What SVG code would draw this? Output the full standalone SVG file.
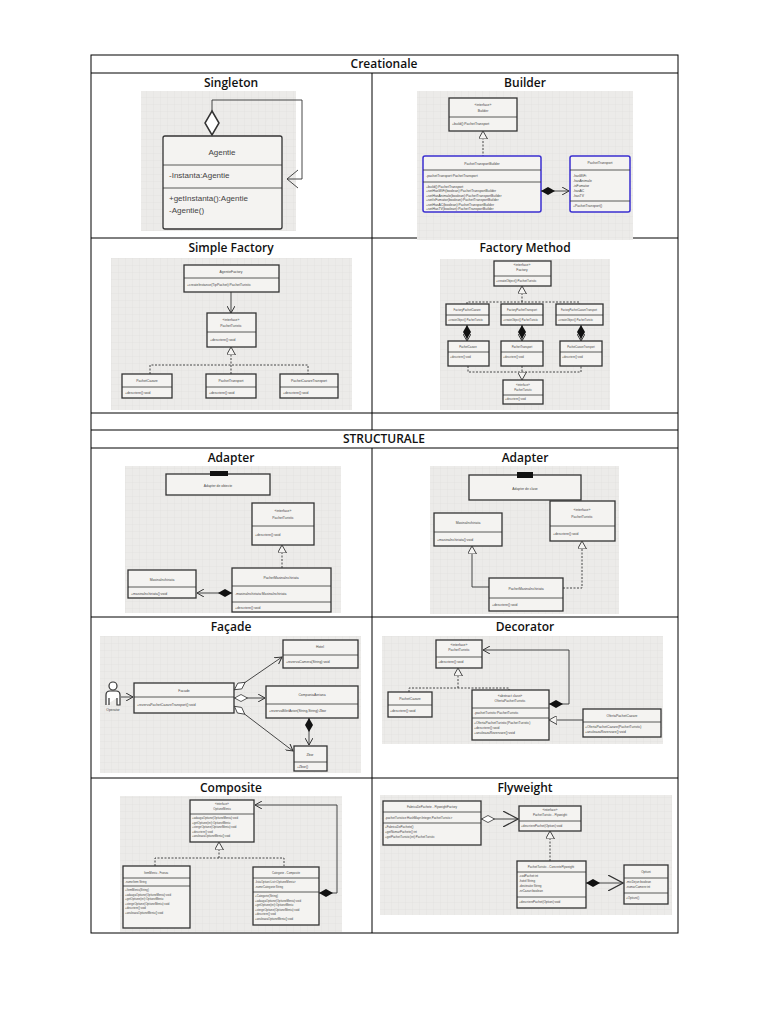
<svg xmlns="http://www.w3.org/2000/svg" width="768" height="1024" viewBox="0 0 768 1024">
<defs>
<pattern id="grid" width="7" height="7" patternUnits="userSpaceOnUse"><rect width="7" height="7" fill="#ecebe9"/><path d="M7 0V7H0" fill="none" stroke="#dcdad7" stroke-width="0.5"/></pattern>
<marker id="open" markerWidth="8" markerHeight="8" refX="7" refY="4" orient="auto" markerUnits="userSpaceOnUse"><path d="M0 0L7 4L0 8" fill="none" stroke="#333" stroke-width="1"/></marker>
<marker id="openL" markerWidth="16" markerHeight="16" refX="15" refY="8" orient="auto" markerUnits="userSpaceOnUse"><path d="M0 0L15 8L0 16" fill="none" stroke="#333" stroke-width="1.2"/></marker>
<marker id="tri" markerWidth="9" markerHeight="9" refX="8" refY="4.5" orient="auto" markerUnits="userSpaceOnUse"><path d="M0 0L8 4.5L0 9Z" fill="#f4f3f1" stroke="#333" stroke-width="0.9"/></marker>
<marker id="fd" markerWidth="16" markerHeight="8" refX="0" refY="4" orient="auto" markerUnits="userSpaceOnUse"><path d="M0 4L7 0L14 4L7 8Z" fill="#111"/></marker>
<marker id="hd" markerWidth="16" markerHeight="8" refX="0" refY="4" orient="auto" markerUnits="userSpaceOnUse"><path d="M0.5 4L7 0.5L13.5 4L7 7.5Z" fill="#fff" stroke="#333" stroke-width="0.8"/></marker>
</defs>
<style>
.cell{fill:none;stroke:#000;stroke-width:1}
.h{font-family:"Open Sans","Liberation Sans",sans-serif;font-size:12px;font-weight:600;text-anchor:middle;fill:#111}
.bg{fill:url(#grid)}
.b{fill:#f4f3f1;stroke:#333;stroke-width:1.3}
.bb{fill:#f4f3f1;stroke:#3a2fd0;stroke-width:1.5}
.d{stroke:#333;stroke-width:0.8}
.t{font-family:"Liberation Sans",sans-serif;font-size:3.4px;fill:#444}
.c{text-anchor:middle}
.big{font-size:8px;fill:#444}
.l{fill:none;stroke:#333;stroke-width:0.9}
.ds{stroke-dasharray:2 1.5}
</style>
<rect width="768" height="1024" fill="#fff"/>
<g id="table">
<rect class="cell" x="91" y="55" width="587" height="878"/>
<path class="cell" d="M91 73H678M91 238H678M91 413H678M91 430H678M91 448H678M91 617H678M91 778H678M372 73V430M372 448V933"/>
<text class="h" x="384" y="68">Creationale</text>
<text class="h" x="384" y="443">STRUCTURALE</text>
<text class="h" x="231" y="87">Singleton</text>
<text class="h" x="525" y="87">Builder</text>
<text class="h" x="231" y="252">Simple Factory</text>
<text class="h" x="525" y="252">Factory Method</text>
<text class="h" x="231" y="462">Adapter</text>
<text class="h" x="525" y="462">Adapter</text>
<text class="h" x="231" y="631">Façade</text>
<text class="h" x="525" y="631">Decorator</text>
<text class="h" x="231" y="792">Composite</text>
<text class="h" x="525" y="792">Flyweight</text>
</g>

<g id="singleton">
<rect class="bg" x="141" y="91" width="155" height="140"/>
<rect class="b" x="163" y="136" width="119" height="93" rx="2" stroke-width="2"/>
<path class="d" d="M163 165H282M163 188H282" stroke-width="1.5"/>
<text class="t big c" x="222" y="155">Agentie</text>
<text class="t big" x="169" y="178">-Instanta:Agentie</text>
<text class="t big" x="169" y="201">+getInstanta():Agentie</text>
<text class="t big" x="169" y="213">-Agentie()</text>
<path d="M212 111L219 123L212 135L205 123Z" fill="#fff" stroke="#333" stroke-width="1.5"/>
<path class="l" stroke-width="1.5" d="M212 111V100H302V179H287M298 170L287 179L298 188"/>
</g>

<g id="builder">
<rect class="bg" x="417" y="91" width="216" height="149"/>
<rect class="b" x="449" y="98" width="68" height="33"/>
<path class="d" d="M449 117H517"/>
<text class="t c" x="483" y="106">«interface»</text><text class="t c" x="483" y="112">Builder</text>
<text class="t" x="452" y="125">+build():PachetTransport</text>
<path class="l ds" d="M483 157V131" marker-end="url(#tri)"/>
<rect class="bb" x="423" y="156" width="118" height="56" rx="2"/>
<path class="d" d="M423 170H541M423 182H541"/>
<text class="t c" x="482" y="165">PachetTransportBuilder</text>
<text class="t" x="426" y="177">-pachetTransport:PachetTransport</text>
<text class="t" x="426" y="187.5">+build():PachetTransport</text>
<text class="t" x="426" y="192">+setHasWiFi(boolean):PachetTransportBuilder</text>
<text class="t" x="426" y="196.5">+setHasAnimale(boolean):PachetTransportBuilder</text>
<text class="t" x="426" y="201">+setIsFumator(boolean):PachetTransportBuilder</text>
<text class="t" x="426" y="205.5">+setHasAC(boolean):PachetTransportBuilder</text>
<text class="t" x="426" y="210">+setHasTV(boolean):PachetTransportBuilder</text>
<path class="l" d="M541 191H569" marker-start="url(#fd)" marker-end="url(#open)"/>
<rect class="bb" x="570" y="156" width="60" height="56" rx="2"/>
<path class="d" d="M570 170H630M570 201H630"/>
<text class="t c" x="600" y="164">PachetTransport</text>
<text class="t" x="573" y="177">-hasWiFi</text><text class="t" x="573" y="182">-hasAnimale</text><text class="t" x="573" y="187">-isFumator</text><text class="t" x="573" y="192">-hasAC</text><text class="t" x="573" y="197">-hasTV</text>
<text class="t" x="573" y="207">+PachetTransport()</text>
</g>

<g id="simplefactory">
<rect class="bg" x="111" y="258" width="241" height="152"/>
<rect class="b" x="184" y="265" width="95" height="27"/>
<path class="d" d="M184 278H279"/>
<text class="t c" x="231" y="273">AgentieFactory</text>
<text class="t" x="187" y="286">+createInstance(TipPachet):PachetTuristic</text>
<path class="l" d="M231 292V313" marker-end="url(#open)"/>
<rect class="b" x="207" y="313" width="49" height="34"/>
<path class="d" d="M207 332H256"/>
<text class="t c" x="231" y="321">«interface»</text><text class="t c" x="231" y="327">PachetTuristic</text>
<text class="t" x="210" y="341">+descriere():void</text>
<path class="l ds" d="M150 374V365H308V374M231 374V347" marker-end="url(#tri)"/>
<rect class="b" x="122" y="374" width="50" height="24"/><path class="d" d="M122 387H172"/>
<text class="t c" x="147" y="382">PachetCazare</text><text class="t" x="125" y="394">+descriere():void</text>
<rect class="b" x="206" y="374" width="50" height="24"/><path class="d" d="M206 387H256"/>
<text class="t c" x="231" y="382">PachetTransport</text><text class="t" x="209" y="394">+descriere():void</text>
<rect class="b" x="280" y="374" width="58" height="24"/><path class="d" d="M280 387H338"/>
<text class="t c" x="309" y="382">PachetCazareTransport</text><text class="t" x="283" y="394">+descriere():void</text>
</g>

<g id="factorymethod">
<rect class="bg" x="440" y="259" width="170" height="151"/>
<rect class="b" x="494" y="261" width="57" height="25"/><path class="d" d="M494 276H551"/>
<text class="t c" x="522" y="266">«interface»</text><text class="t c" x="522" y="271">Factory</text>
<text class="t" x="496" y="282" style="font-size:3px">+createObject():PachetTuristic</text>
<path class="l ds" d="M467 304V302H579V304M522 302V286" marker-end="url(#tri)"/>
<rect class="b" x="446" y="304" width="43" height="21"/><path class="d" d="M446 315H489"/>
<text class="t c" x="467" y="311" style="font-size:2.8px">FactoryPachetCazare</text><text class="t" x="448" y="321" style="font-size:2.6px">+createObject():PachetTuristic</text>
<rect class="b" x="501" y="304" width="42" height="21"/><path class="d" d="M501 315H543"/>
<text class="t c" x="522" y="311" style="font-size:2.8px">FactoryPachetTransport</text><text class="t" x="503" y="321" style="font-size:2.6px">+createObject():PachetTuristic</text>
<rect class="b" x="556" y="304" width="47" height="21"/><path class="d" d="M556 315H603"/>
<text class="t c" x="579" y="311" style="font-size:2.6px">FactoryPachetCazareTransport</text><text class="t" x="558" y="321" style="font-size:2.6px">+createObject():PachetTuristic</text>
<path class="l" d="M467 325V341" marker-start="url(#fd)" marker-end="url(#open)"/>
<path class="l" d="M522 325V341" marker-start="url(#fd)" marker-end="url(#open)"/>
<path class="l" d="M581 325V341" marker-start="url(#fd)" marker-end="url(#open)"/>
<rect class="b" x="448" y="341" width="41" height="25"/><path class="d" d="M448 352H489"/>
<text class="t c" x="468" y="348" style="font-size:2.8px">PachetCazare</text><text class="t" x="450" y="358" style="font-size:2.8px">+descriere():void</text>
<rect class="b" x="501" y="341" width="42" height="25"/><path class="d" d="M501 352H543"/>
<text class="t c" x="522" y="348" style="font-size:2.8px">PachetTransport</text><text class="t" x="503" y="358" style="font-size:2.8px">+descriere():void</text>
<rect class="b" x="560" y="341" width="42" height="25"/><path class="d" d="M560 352H602"/>
<text class="t c" x="581" y="348" style="font-size:2.6px">PachetCazareTransport</text><text class="t" x="562" y="358" style="font-size:2.8px">+descriere():void</text>
<path class="l ds" d="M468 366V372H581V366M522 366V380" marker-end="url(#tri)"/>
<rect class="b" x="503" y="380" width="40" height="24"/><path class="d" d="M503 395H543"/>
<text class="t c" x="523" y="386" style="font-size:2.8px">«interface»</text><text class="t c" x="523" y="391" style="font-size:2.8px">PachetTuristic</text>
<text class="t" x="505" y="400" style="font-size:2.8px">+descriere():void</text>
</g>

<g id="adapter1">
<rect class="bg" x="125" y="466" width="216" height="147"/>
<rect class="b" x="166" y="474" width="104" height="21"/>
<rect x="210" y="471" width="18" height="5" fill="#111"/>
<text class="t c" x="218" y="487">Adapter de obiecte</text>
<rect class="b" x="252" y="503" width="62" height="42"/><path class="d" d="M252 526H314"/>
<text class="t c" x="283" y="512">«interface»</text><text class="t c" x="283" y="519">PachetTuristic</text>
<text class="t" x="255" y="536">+descriere():void</text>
<path class="l ds" d="M282 568V545" marker-end="url(#tri)"/>
<rect class="b" x="232" y="568" width="99" height="44"/><path class="d" d="M232 586H331M232 602H331"/>
<text class="t c" x="281" y="579">PachetMasinaInchiriata</text>
<text class="t" x="235" y="595">-masinaInchiriata:MasinaInchiriata</text>
<text class="t" x="235" y="609">+descriere():void</text>
<rect class="b" x="128" y="570" width="68" height="28"/><path class="d" d="M128 587H196"/>
<text class="t c" x="162" y="581">MasinaInchiriata</text>
<text class="t" x="131" y="595">+masinaInchiriata():void</text>
<path class="l" d="M232 593H197" marker-start="url(#fd)" marker-end="url(#open)"/>
</g>

<g id="adapter2">
<rect class="bg" x="430" y="466" width="189" height="148"/>
<rect class="b" x="469" y="475" width="112" height="25"/>
<rect x="517" y="472" width="16" height="6" fill="#111"/>
<text class="t c" x="525" y="490">Adapter de clase</text>
<rect class="b" x="434" y="513" width="68" height="33"/><path class="d" d="M434 532H502"/>
<text class="t c" x="468" y="524">MasinaInchiriata</text>
<text class="t" x="437" y="541">+masinaInchiriata():void</text>
<rect class="b" x="550" y="501" width="65" height="40"/><path class="d" d="M550 526H615"/>
<text class="t c" x="582" y="511">«interface»</text><text class="t c" x="582" y="518">PachetTuristic</text>
<text class="t" x="553" y="535">+descriere():void</text>
<path class="l" d="M489 587H472V546" marker-end="url(#tri)"/>
<path class="l ds" d="M563 588H582V541" marker-end="url(#tri)"/>
<rect class="b" x="489" y="578" width="74" height="33"/><path class="d" d="M489 598H563"/>
<text class="t c" x="526" y="590">PachetMasinaInchiriata</text>
<text class="t" x="492" y="606">+descriere():void</text>
</g>

<g id="facade">
<rect class="bg" x="100" y="636" width="261" height="137"/>
<circle cx="113" cy="686" r="4" fill="#fff" stroke="#333" stroke-width="1.2"/>
<path d="M106 705V695Q106 691 110 691H116Q120 691 120 695V705H117V698M109 698V705" fill="#fff" stroke="#333" stroke-width="1.2"/>
<text class="t c" x="113" y="711">Operator</text>
<path class="l" d="M121 697H133" marker-end="url(#open)"/>
<rect class="b" x="134" y="683" width="100" height="30"/><path class="d" d="M134 697H234"/>
<text class="t c" x="184" y="692">Facade</text>
<text class="t" x="137" y="706">+rezervaPachetCazareTransport():void</text>
<rect class="b" x="283" y="640" width="75" height="28"/><path class="d" d="M283 655H358"/>
<text class="t c" x="320" y="648">Hotel</text>
<text class="t" x="286" y="663">+rezervaCamera(String):void</text>
<rect class="b" x="266" y="686" width="92" height="32"/><path class="d" d="M266 704H358"/>
<text class="t c" x="312" y="696">CompaniaAeriana</text>
<text class="t" x="269" y="712">+rezervaBiletAvion(String,String):Zbor</text>
<rect class="b" x="294" y="746" width="33" height="25"/><path class="d" d="M294 762H327"/>
<text class="t c" x="310" y="756">Zbor</text>
<text class="t" x="297" y="768">+Zbor()</text>
<path class="l" d="M234 690L282 657" marker-start="url(#hd)" marker-end="url(#open)"/>
<path class="l" d="M234 698H265" marker-start="url(#hd)" marker-end="url(#open)"/>
<path class="l" d="M234 706L293 751" marker-start="url(#hd)" marker-end="url(#open)"/>
<path class="l" d="M309 718V745" marker-start="url(#fd)" marker-end="url(#open)"/>
</g>

<g id="decorator">
<rect class="bg" x="382" y="636" width="281" height="108"/>
<rect class="b" x="436" y="640" width="46" height="28"/><path class="d" d="M436 657H482"/>
<text class="t c" x="459" y="646">«interface»</text><text class="t c" x="459" y="651">PachetTuristic</text>
<text class="t" x="438" y="663">+descriere():void</text>
<path class="l ds" d="M409 692V688H509V690M458 688V668" marker-end="url(#tri)"/>
<rect class="b" x="388" y="692" width="44" height="25"/><path class="d" d="M388 705H432"/>
<text class="t c" x="410" y="700">PachetCazare</text>
<text class="t" x="390" y="712">+descriere():void</text>
<rect class="b" x="472" y="690" width="77" height="50"/><path class="d" d="M472 708H549M472 718H549"/>
<text class="t c" x="510" y="697">«abstract class»</text><text class="t c" x="510" y="702">OfertaPachetTuristic</text>
<text class="t" x="474" y="714">-pachetTuristic:PachetTuristic</text>
<text class="t" x="474" y="724">+OfertaPachetTuristic(PachetTuristic)</text>
<text class="t" x="474" y="729">+descriere():void</text>
<text class="t" x="474" y="734">+anuleazaRezervare():void</text>
<path class="l" d="M549 704H569V650H483" marker-start="url(#fd)" marker-end="url(#open)"/>
<rect class="b" x="583" y="709" width="78" height="28"/><path class="d" d="M583 722H661"/>
<text class="t c" x="622" y="717">OfertaPachetCazare</text>
<text class="t" x="585" y="728">+OfertaPachetCazare(PachetTuristic)</text>
<text class="t" x="585" y="733">+anuleazaRezervare():void</text>
<path class="l" d="M583 720H549" marker-end="url(#tri)"/>
</g>

<g id="composite">
<rect class="bg" x="120" y="796" width="222" height="136"/>
<rect class="b" x="190" y="800" width="64" height="42"/><path class="d" d="M190 814H254"/>
<text class="t c" x="222" y="805" style="font-size:2.8px">«interface»</text><text class="t c" x="222" y="810" style="font-size:2.8px">OptiuneMeniu</text>
<text class="t" x="192" y="819" style="font-size:2.8px">+adaugaOptiune(OptiuneMeniu):void</text>
<text class="t" x="192" y="823.5" style="font-size:2.8px">+getOptiune(int):OptiuneMeniu</text>
<text class="t" x="192" y="828" style="font-size:2.8px">+stergeOptiune(OptiuneMeniu):void</text>
<text class="t" x="192" y="832.5" style="font-size:2.8px">+descriere():void</text>
<text class="t" x="192" y="837" style="font-size:2.8px">+anuleazaOptiuneMeniu():void</text>
<path class="l ds" d="M155 866V858H284V866M219 858V842" marker-end="url(#tri)"/>
<rect class="b" x="123" y="866" width="67" height="62"/><path class="d" d="M123 878H190M123 886H190"/>
<text class="t c" x="156" y="874" style="font-size:2.8px">ItemMeniu - Frunza</text>
<text class="t" x="125" y="883" style="font-size:2.8px">-numeItem:String</text>
<text class="t" x="125" y="891" style="font-size:2.8px">+ItemMeniu(String)</text>
<text class="t" x="125" y="895.5" style="font-size:2.8px">+adaugaOptiune(OptiuneMeniu):void</text>
<text class="t" x="125" y="900" style="font-size:2.8px">+getOptiune(int):OptiuneMeniu</text>
<text class="t" x="125" y="904.5" style="font-size:2.8px">+stergeOptiune(OptiuneMeniu):void</text>
<text class="t" x="125" y="909" style="font-size:2.8px">+descriere():void</text>
<text class="t" x="125" y="913.5" style="font-size:2.8px">+anuleazaOptiuneMeniu():void</text>
<rect class="b" x="253" y="867" width="66" height="58"/><path class="d" d="M253 878H319M253 892H319"/>
<text class="t c" x="286" y="874" style="font-size:2.8px">Categorie - Composite</text>
<text class="t" x="255" y="883" style="font-size:2.8px">-listaOptiuni:List&lt;OptiuneMeniu&gt;</text>
<text class="t" x="255" y="887.5" style="font-size:2.8px">-numeCategorie:String</text>
<text class="t" x="255" y="897" style="font-size:2.8px">+Categorie(String)</text>
<text class="t" x="255" y="901.5" style="font-size:2.8px">+adaugaOptiune(OptiuneMeniu):void</text>
<text class="t" x="255" y="906" style="font-size:2.8px">+getOptiune(int):OptiuneMeniu</text>
<text class="t" x="255" y="910.5" style="font-size:2.8px">+stergeOptiune(OptiuneMeniu):void</text>
<text class="t" x="255" y="915" style="font-size:2.8px">+descriere():void</text>
<text class="t" x="255" y="919.5" style="font-size:2.8px">+anuleazaOptiuneMeniu():void</text>
<path class="l" d="M319 893H337V805H255" marker-start="url(#fd)" marker-end="url(#open)"/>
</g>

<g id="flyweight">
<rect class="bg" x="380" y="795" width="292" height="120"/>
<rect class="b" x="383" y="801" width="98" height="44"/><path class="d" d="M383 812H481M383 823H481"/>
<text class="t c" x="432" y="808" style="font-size:3px">FabricaDePachete - FlyweightFactory</text>
<text class="t" x="385" y="819" style="font-size:3px">-pachetTuristice:HashMap&lt;Integer,PachetTuristic&gt;</text>
<text class="t" x="385" y="828" style="font-size:3px">+FabricaDePachete()</text>
<text class="t" x="385" y="833" style="font-size:3px">+getNumarPachete():int</text>
<text class="t" x="385" y="838" style="font-size:3px">+getPachetTuristic(int):PachetTuristic</text>
<path class="l" d="M481 819H518" marker-start="url(#hd)" marker-end="url(#openL)"/>
<rect class="b" x="519" y="806" width="62" height="25"/><path class="d" d="M519 821H581"/>
<text class="t c" x="550" y="811" style="font-size:3px">«interface»</text><text class="t c" x="550" y="816" style="font-size:3px">PachetTuristic - Flyweight</text>
<text class="t" x="521" y="827" style="font-size:3px">+descrierePachet(Optiuni):void</text>
<path class="l ds" d="M550 861V831" marker-end="url(#tri)"/>
<rect class="b" x="517" y="861" width="69" height="47"/><path class="d" d="M517 872H586M517 897H586"/>
<text class="t c" x="551" y="868" style="font-size:3px">PachetTuristic - ConcreteFlyweight</text>
<text class="t" x="519" y="877" style="font-size:3px">-codPachet:int</text>
<text class="t" x="519" y="882" style="font-size:3px">-hotel:String</text>
<text class="t" x="519" y="887" style="font-size:3px">-destinatie:String</text>
<text class="t" x="519" y="892" style="font-size:3px">-nrCazari:boolean</text>
<text class="t" x="519" y="903" style="font-size:3px">+descrierePachet(Optiuni):void</text>
<path class="l" d="M586 883H623" marker-start="url(#fd)" marker-end="url(#openL)"/>
<rect class="b" x="624" y="865" width="44" height="39"/><path class="d" d="M624 878H668M624 893H668"/>
<text class="t c" x="646" y="873" style="font-size:3px">Optiuni</text>
<text class="t" x="626" y="883" style="font-size:3px">-micDejun:boolean</text>
<text class="t" x="626" y="888" style="font-size:3px">-numarCamere:int</text>
<text class="t" x="626" y="899" style="font-size:3px">+Optiuni()</text>
</g>
</svg>
